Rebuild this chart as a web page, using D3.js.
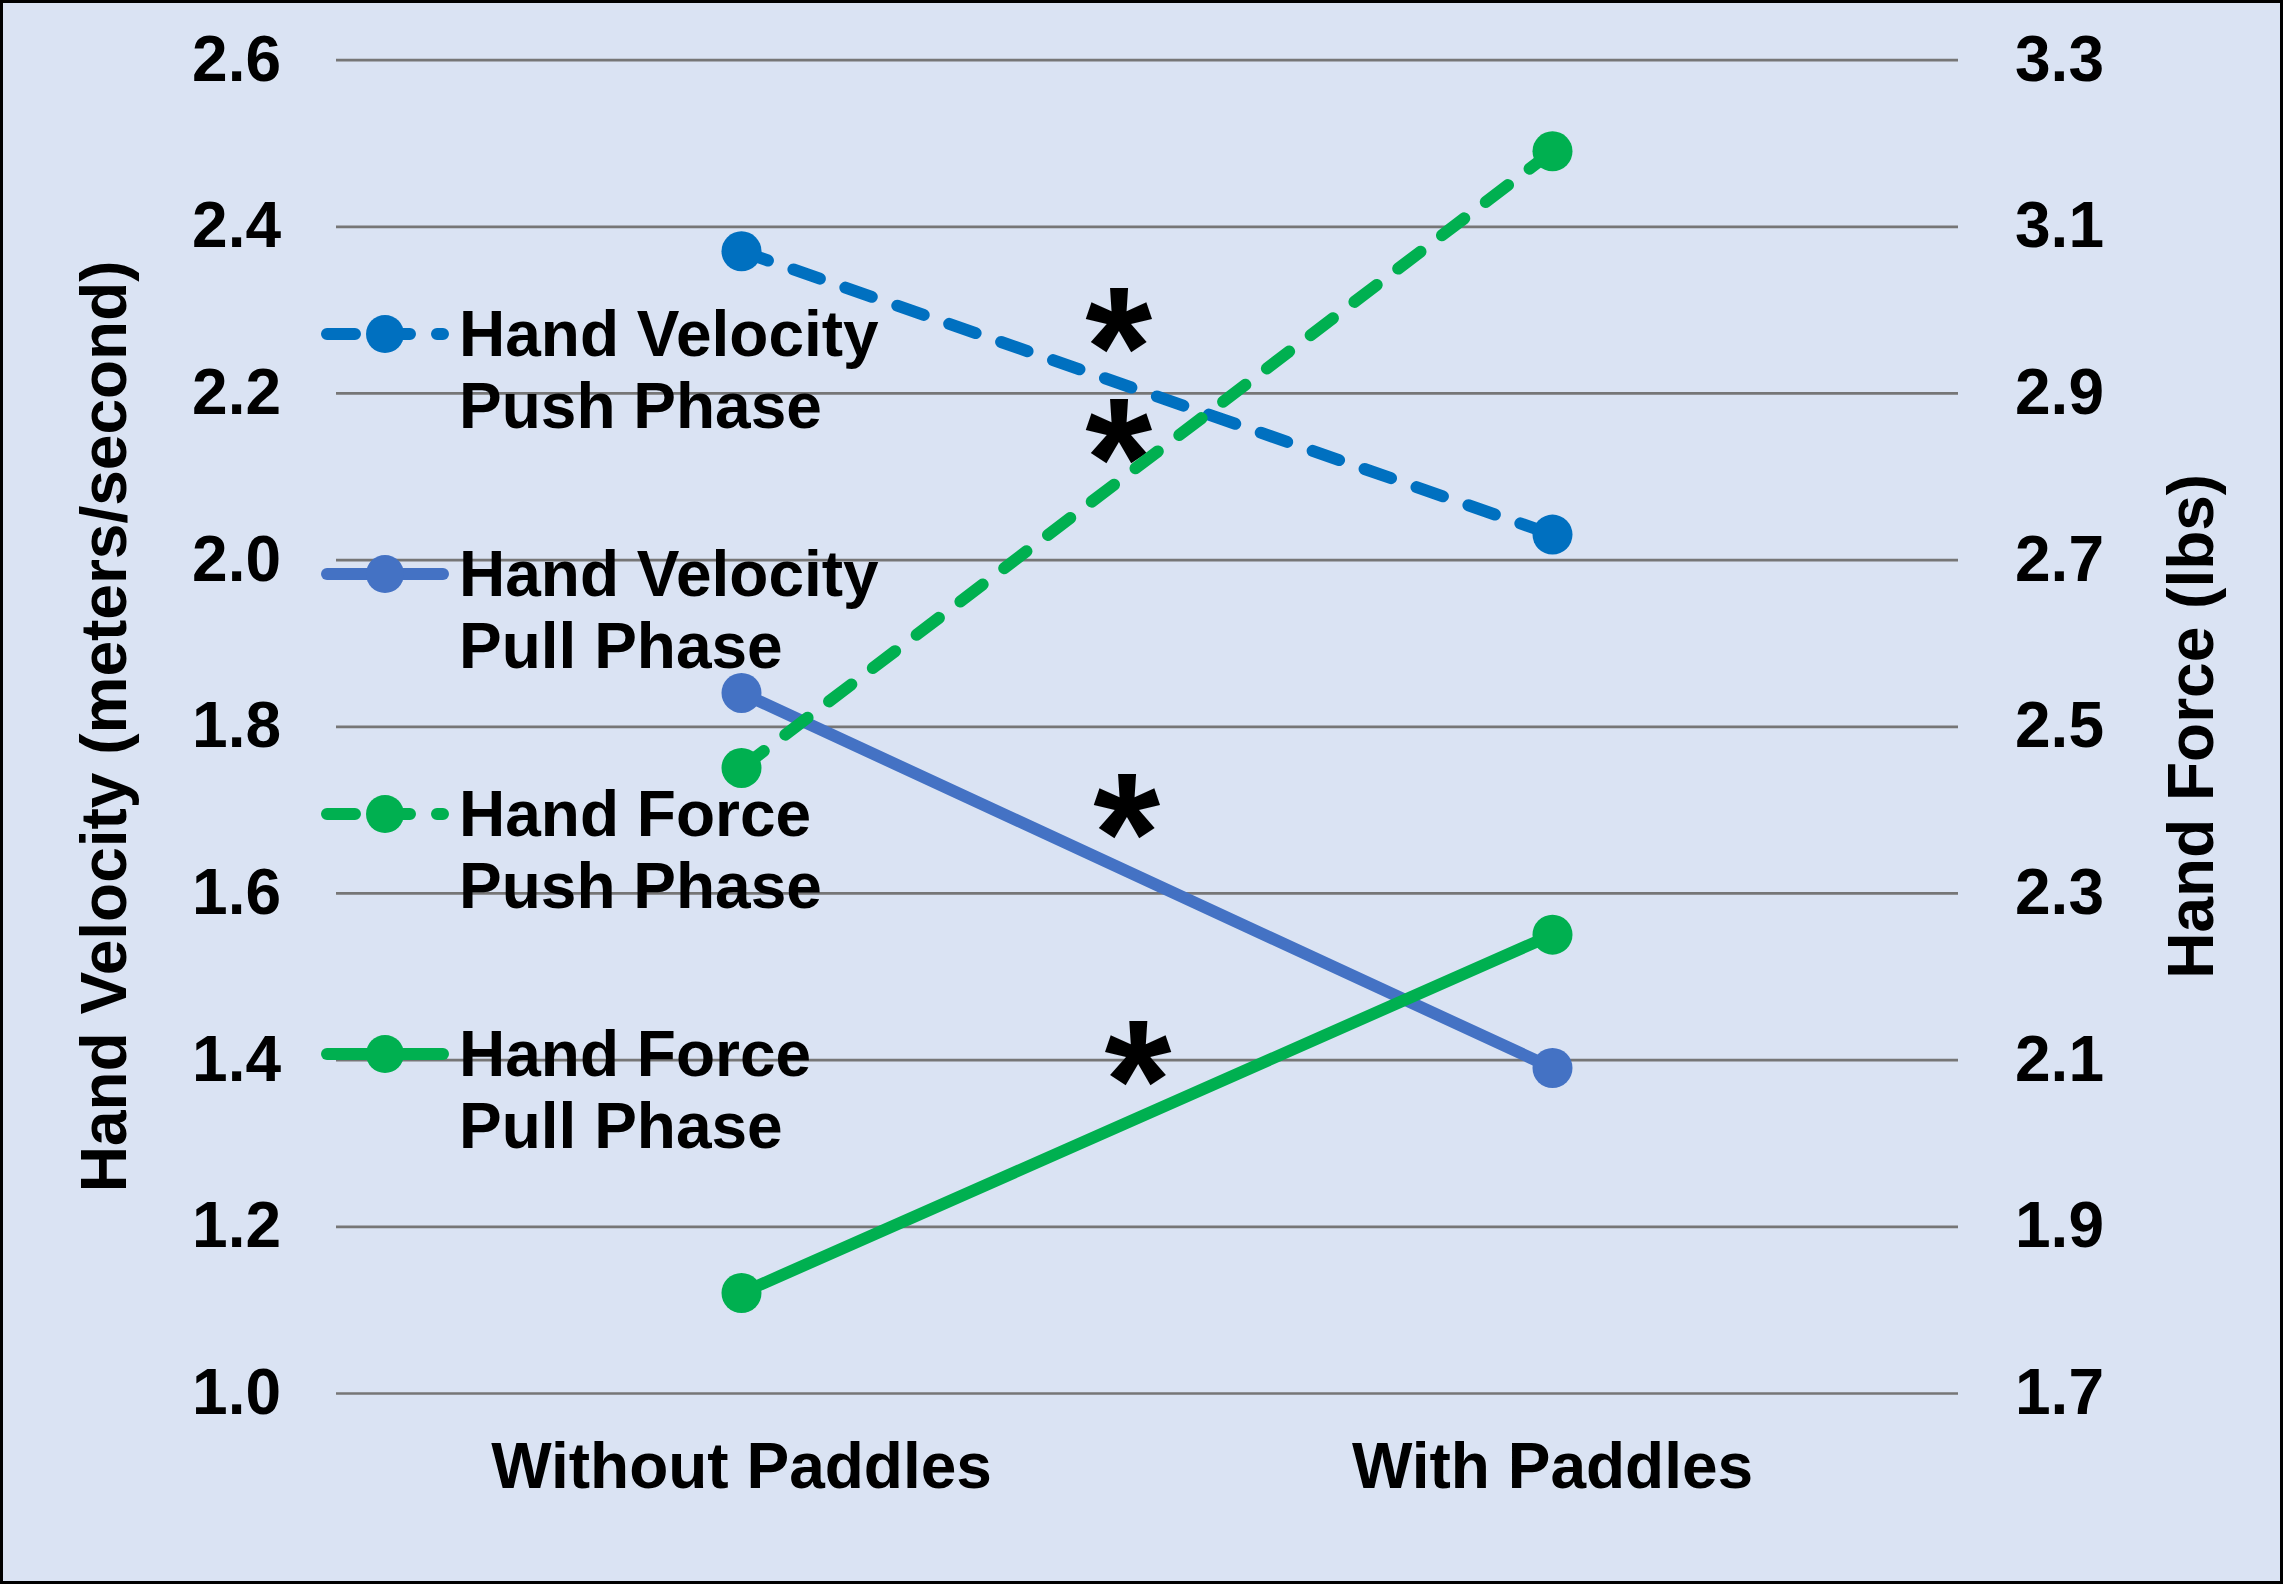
<!DOCTYPE html>
<html>
<head>
<meta charset="utf-8">
<script src="https://cdn.jsdelivr.net/npm/d3@7"></script>
<style>
  html, body { margin: 0; padding: 0; background: #ffffff; }
  svg { display: block; }
  text { font-family: "Liberation Sans", Arial, sans-serif; font-weight: bold; fill: #000; }
</style>
</head>
<body>
<svg id="chart" width="2283" height="1584"></svg>
<script>
// ---- Data ----
const categories = ["Without Paddles", "With Paddles"];

const handVelocityPush = [2.37, 2.03];   // left axis (m/s)
const handVelocityPull = [1.84, 1.39];   // left axis (m/s)
const handForcePush    = [2.45, 3.19];   // right axis (lbs)
const handForcePull    = [1.82, 2.25];   // right axis (lbs)

const seriesNames = [
  ["Hand Velocity", "Push Phase"],
  ["Hand Velocity", "Pull Phase"],
  ["Hand Force", "Push Phase"],
  ["Hand Force", "Pull Phase"]
];

const leftTicks  = [1.0, 1.2, 1.4, 1.6, 1.8, 2.0, 2.2, 2.4, 2.6];
const rightTicks = [1.7, 1.9, 2.1, 2.3, 2.5, 2.7, 2.9, 3.1, 3.3];

const leftTitle  = "Hand Velocity (meters/second)";
const rightTitle = "Hand Force (lbs)";

// significance markers: position as fraction between categories, value on left axis
const asteriskT = [0.465, 0.465, 0.475, 0.489];
const asteriskV = [2.283, 2.150, 1.700, 1.404];

// ---- Layout ----
const W = 2283, H = 1584;
const plot = { left: 336, right: 1958, top: 59.6, bottom: 1393 };

const svg = d3.select("#chart");

svg.append("rect").attr("x", 1.5).attr("y", 1.5).attr("width", W - 3).attr("height", H - 3)
  .attr("fill", "#DAE3F3").attr("stroke", "#000").attr("stroke-width", 3);

const x = d3.scaleBand().domain(categories).range([plot.left, plot.right]);
const xc = c => x(c) + x.bandwidth() / 2;
const yL = d3.scaleLinear().domain([1.0, 2.6]).range([plot.bottom, plot.top]);
const yR = d3.scaleLinear().domain([1.7, 3.3]).range([plot.bottom, plot.top]);

// gridlines
const grid = svg.append("g")
  .attr("transform", `translate(${plot.left},0)`)
  .call(d3.axisLeft(yL).tickValues(leftTicks).tickSize(-(plot.right - plot.left)).tickFormat(""));
grid.select(".domain").remove();
grid.selectAll("line").attr("stroke", "#767676").attr("stroke-width", 2.7);

// left axis labels
const axL = svg.append("g")
  .attr("transform", `translate(${plot.left},0)`)
  .call(d3.axisLeft(yL).tickValues(leftTicks).tickSize(0).tickPadding(55).tickFormat(d3.format(".1f")));
axL.select(".domain").remove();
axL.selectAll("text").attr("font-size", 64).attr("font-family", "Liberation Sans, Arial, sans-serif")
  .attr("font-weight", "bold").attr("fill", "#000");

// right axis labels
const axR = svg.append("g")
  .attr("transform", `translate(${plot.right},0)`)
  .call(d3.axisRight(yR).tickValues(rightTicks).tickSize(0).tickPadding(57).tickFormat(d3.format(".1f")));
axR.select(".domain").remove();
axR.selectAll("text").attr("font-size", 64).attr("font-family", "Liberation Sans, Arial, sans-serif")
  .attr("font-weight", "bold").attr("fill", "#000");

// category axis
const axX = svg.append("g")
  .attr("transform", `translate(0,${plot.bottom})`)
  .call(d3.axisBottom(x).tickSize(0).tickPadding(50));
axX.select(".domain").remove();
axX.selectAll("text").attr("font-size", 64).attr("font-family", "Liberation Sans, Arial, sans-serif")
  .attr("font-weight", "bold").attr("fill", "#000");

// axis titles
const midY = (plot.top + plot.bottom) / 2;
svg.append("text").attr("transform", `translate(126,${midY}) rotate(-90)`)
  .attr("text-anchor", "middle").attr("font-size", 64).text(leftTitle);
svg.append("text").attr("transform", `translate(2213,${midY}) rotate(-90)`)
  .attr("text-anchor", "middle").attr("font-size", 64).text(rightTitle);

// asterisks
const x0 = xc(categories[0]), x1 = xc(categories[1]);
const astFs = 172;
svg.append("g").selectAll("text").data(asteriskT).join("text")
  .attr("x", (t) => x0 + t * (x1 - x0))
  .attr("y", (t, i) => yL(asteriskV[i]) + 0.485 * astFs)
  .attr("text-anchor", "middle").attr("font-size", astFs).text("*");

// series
const series = [
  { vals: handVelocityPush, y: yL, color: "#0070C0", dash: "28 27" },
  { vals: handVelocityPull, y: yL, color: "#4472C4", dash: null },
  { vals: handForcePush,    y: yR, color: "#00B050", dash: "28 27" },
  { vals: handForcePull,    y: yR, color: "#00B050", dash: null }
];

const lw = 12, mr = 20;
series.forEach(s => {
  const pts = categories.map((c, i) => [xc(c), s.y(s.vals[i])]);
  svg.append("path").attr("d", d3.line()(pts))
    .attr("fill", "none").attr("stroke", s.color).attr("stroke-width", lw)
    .attr("stroke-linecap", "round")
    .attr("stroke-dasharray", s.dash);
  svg.append("g").selectAll("circle").data(pts).join("circle")
    .attr("cx", d => d[0]).attr("cy", d => d[1]).attr("r", mr).attr("fill", s.color);
});

// legend
const legX1 = 327, legX2 = 443, legMx = 385, legText = 459;
const legY0 = 334, legStep = 240, lineH = 72;
series.forEach((s, i) => {
  const gy = legY0 + i * legStep;
  const g = svg.append("g");
  g.append("line").attr("x1", legX1).attr("x2", legX2).attr("y1", gy).attr("y2", gy)
    .attr("stroke", s.color).attr("stroke-width", lw).attr("stroke-linecap", "round")
    .attr("stroke-dasharray", s.dash);
  g.append("circle").attr("cx", legMx).attr("cy", gy).attr("r", mr - 1).attr("fill", s.color);
  const t = g.append("text").attr("x", legText).attr("y", gy + 22).attr("font-size", 64);
  seriesNames[i].forEach((ln, k) => {
    t.append("tspan").attr("x", legText).attr("dy", k === 0 ? 0 : lineH).text(ln);
  });
});
</script>
</body>
</html>
